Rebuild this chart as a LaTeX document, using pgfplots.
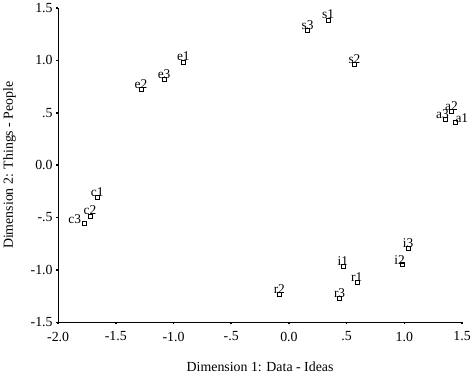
\documentclass[border=0pt]{standalone}
\usepackage{pgfplots}
\pgfplotsset{compat=1.18}
\usepackage{pgfplotstable}
\usepackage{fontspec}
\setmainfont{Liberation Serif}
\pgfplotstableread{
x y lab
-0.915 0.986 e1
-1.282 0.723 e2
-1.082 0.818 e3
0.339 1.387 s1
0.568 0.960 s2
0.161 1.286 s3
1.409 0.518 a2
-1.661 -0.310 c1
-1.724 -0.483 c2
-0.083 -1.232 r2
0.467 -0.967 i1
0.588 -1.121 r1
0.439 -1.267 r3
1.033 -0.790 i3
}\above
\pgfplotstableread{
x y lab
-1.770 -0.550 c3
}\leftpts
\pgfplotstableread{
x y lab
1.437 0.408 a1
}\rightpts
\pgfplotstableread{
x y lab
1.357 0.442 a3
0.984 -0.948 i2
}\abovelpts
\begin{document}
\begin{tikzpicture}
\begin{axis}[
  scale only axis,
  width=406bp, height=316bp,
  xmin=-2, xmax=1.5, ymin=-1.5, ymax=1.5,
  axis x line*=bottom, axis y line*=left,
  axis line style={line width=1.2bp,-},
  xtick={-2,-1.5,-1,-0.5,0,0.5,1,1.5},
  xticklabels={-2.0,-1.5,-1.0,-.5,0.0,.5,1.0,1.5},
  ytick={-1.5,-1,-0.5,0,0.5,1,1.5},
  yticklabels={-1.5,-1.0,-.5,0.0,.5,1.0,1.5},
  tick align=outside, major tick length=2bp,
  tick style={line width=1.5bp,black},
  ticklabel style={font=\fontsize{14}{16}\selectfont},
  xticklabel style={yshift=-4bp},
  yticklabel style={xshift=0bp},
  xlabel={Dimension 1: Data - Ideas},
  ylabel={Dimension 2: Things - People},
  label style={font=\fontsize{14}{16}\selectfont},
  xlabel style={yshift=-14bp},
  ylabel style={yshift=8bp},
  clip=false,
  nodes near coords={\pgfplotspointmeta},
  point meta=explicit symbolic,
  every node near coord/.append style={font=\fontsize{13.5}{15}\selectfont, inner sep=0.5bp},
]
\addplot[only marks, mark=square, mark size=2bp, mark options={line width=0.5bp},
  every node near coord/.append style={anchor=south}] table[meta=lab] {\above};
\addplot[only marks, mark=square, mark size=2bp, mark options={line width=0.5bp},
  every node near coord/.append style={anchor=south east, xshift=-3bp, yshift=-2bp}] table[meta=lab] {\leftpts};
\addplot[only marks, mark=square, mark size=2bp, mark options={line width=0.5bp},
  every node near coord/.append style={anchor=south west, xshift=0bp, yshift=-1bp}] table[meta=lab] {\rightpts};
\addplot[only marks, mark=square, mark size=2bp, mark options={line width=0.5bp},
  every node near coord/.append style={anchor=south, xshift=-3bp, yshift=-1bp}] table[meta=lab] {\abovelpts};
\end{axis}
\end{tikzpicture}
\end{document}
